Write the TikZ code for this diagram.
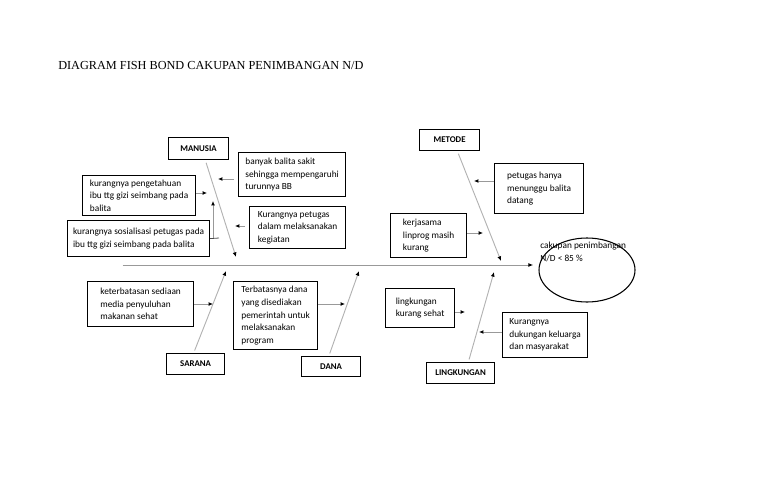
\documentclass[tikz,border=0pt]{standalone}
\usepackage{fontspec}
\setmainfont{Carlito}
\newfontfamily\judulfont{Liberation Serif}
\usetikzlibrary{arrows.meta,shapes.geometric}

\begin{document}
\begin{tikzpicture}[x=0.75pt,y=-0.75pt,
  kotak/.style={draw, line width=0.9pt, anchor=north west, align=left, inner sep=0pt, font=\fontsize{7}{9.4}\selectfont},
  kepala/.style={draw, line width=0.9pt, anchor=north west, inner sep=0pt, font=\fontsize{6.6}{8}\selectfont\bfseries},
  tulang/.style={draw=black!30, line width=0.7pt, shorten <=2pt, -{Latex[black,length=3.5pt,width=3pt]}},
  panah/.style={draw=black!40, line width=0.6pt, -{Latex[black,length=3.2pt,width=2.8pt]}}]
\useasboundingbox (0,0) rectangle (768,503);
\node[anchor=base west, inner sep=0pt, font=\judulfont\fontsize{9.2}{10}\selectfont] (judul) at (58,70) {DIAGRAM FISH BOND CAKUPAN PENIMBANGAN N/D};
\node[kepala, minimum width=45pt, minimum height=16.5pt] (manusia) at (168,137) {MANUSIA};
\node[kepala, minimum width=45pt, minimum height=15.75pt] (metode) at (419,129) {METODE};
\node[kepala, minimum width=43.5pt, minimum height=15.75pt] (sarana) at (166,353) {SARANA};
\node[kepala, minimum width=44.25pt, minimum height=15pt] (dana) at (301,356) {DANA};
\node[kepala, minimum width=51pt, minimum height=15.75pt] (lingkungan) at (426,362) {LINGKUNGAN};
\node[kotak, minimum width=80.25pt, minimum height=33pt] (c1) at (238,152) {banyak balita sakit\\sehingga mempengaruhi\\turunnya BB};
\node[kotak, minimum width=84.75pt, minimum height=30pt] (c2) at (82,175) {kurangnya pengetahuan\\ibu ttg gizi seimbang pada\\balita};
\node[kotak, minimum width=106.5pt, minimum height=27pt] (c3) at (67,220) {kurangnya sosialisasi petugas pada\\ibu ttg gizi seimbang pada balita};
\node[kotak, minimum width=72pt, minimum height=31.5pt] (c4) at (249,206) {Kurangnya petugas\\dalam melaksanakan\\kegiatan};
\node[kotak, minimum width=79.5pt, minimum height=33.75pt] (c5) at (87,281) {keterbatasan sediaan\\media penyuluhan\\makanan sehat};
\node[kotak, minimum width=63pt, minimum height=51pt] (c6) at (233,281) {Terbatasnya dana\\yang disediakan\\pemerintah untuk\\melaksanakan\\program};
\node[kotak, minimum width=66.75pt, minimum height=37.5pt] (c7) at (494,163) {petugas hanya\\menunggu balita\\datang};
\node[kotak, minimum width=57pt, minimum height=33pt] (c8) at (390,213) {kerjasama\\linprog masih\\kurang};
\node[kotak, minimum width=51.75pt, minimum height=29.25pt] (c9) at (385,288) {lingkungan\\kurang sehat};
\node[kotak, minimum width=63.75pt, minimum height=33.75pt] (c10) at (502,312) {Kurangnya\\dukungan keluarga\\dan masyarakat};
\node[draw, ellipse, line width=0.8pt, minimum width=72pt, minimum height=48pt, inner sep=0pt] (efek) at (587,270) {};
\node[anchor=north west, align=left, inner sep=0pt, font=\fontsize{7}{9.4}\selectfont] (efekteks) at (540,242) {cakupan penimbangan\\N/D < 85 \%};
\coordinate (ekor) at (120,265);
\draw[tulang, draw=black!40, shorten >=4pt] (ekor) -- (efek.west |- ekor);
\coordinate (u1) at (236,257);
\coordinate (u2) at (501,261);
\coordinate (u3) at (226,271);
\coordinate (u4) at (359,271);
\coordinate (u5) at (494,272);
\draw[tulang] (manusia.-60) -- (u1);
\draw[tulang] (metode.-55) -- (u2);
\draw[tulang] (sarana.100) -- (u3);
\draw[tulang] (dana.102) -- (u4);
\draw[tulang] (lingkungan.55) -- (u5);
\coordinate (t1) at (218,179);
\coordinate (t2) at (207,193);
\coordinate (t4) at (235,226);
\coordinate (t5) at (213,304);
\coordinate (t6) at (345,304);
\coordinate (t7) at (474,181);
\coordinate (t8) at (483,233);
\coordinate (t9) at (465,312);
\coordinate (t10) at (479,332);
\draw[panah, shorten <=3pt] (c1.west |- t1) -- (t1);
\draw[panah] (c2.east |- t2) -- (t2);
\draw[panah, shorten <=3pt] (c4.west |- t4) -- (t4);
\draw[panah] (c5.east |- t5) -- (t5);
\draw[panah] (c6.east |- t6) -- (t6);
\draw[panah] (c7.west |- t7) -- (t7);
\draw[panah] (c8.east |- t8) -- (t8);
\draw[panah] (c9.east |- t9) -- (t9);
\draw[panah] (c10.west |- t10) -- (t10);
\coordinate (siku) at (219,238);
\coordinate (siku2) at (213,238);
\coordinate (t3) at (213,201);
\draw[draw=black!70, line width=0.6pt] (c3.east) -- (siku);
\draw[panah] (siku2) -- (t3);
\end{tikzpicture}
\end{document}
